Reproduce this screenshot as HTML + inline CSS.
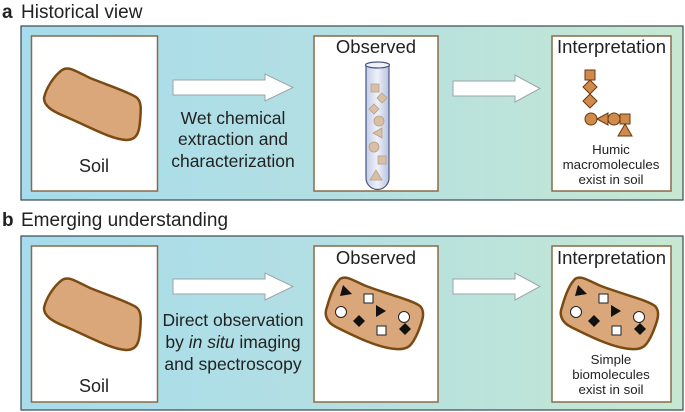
<!DOCTYPE html>
<html><head><meta charset="utf-8"><style>
html,body{margin:0;padding:0;background:#fff;}
svg{display:block;font-family:"Liberation Sans",Arial,sans-serif;}
</style></head><body>
<svg width="685" height="412" viewBox="0 0 685 412" xmlns="http://www.w3.org/2000/svg">
<defs>
<linearGradient id="bg" x1="0" x2="1" y1="0" y2="0">
<stop offset="0" stop-color="#a6dcec"/>
<stop offset="0.45" stop-color="#b3dfe3"/>
<stop offset="1" stop-color="#c6e8d2"/>
</linearGradient>
<linearGradient id="tube" x1="0" x2="1">
<stop offset="0" stop-color="#c4cde8"/>
<stop offset="0.5" stop-color="#eef1fa"/>
<stop offset="1" stop-color="#b7c1e0"/>
</linearGradient>
<path id="blob" d="M62,70 C68,66 74,70 90,78 C110,86 126,91 136,97 C142,101 141,110 140,122 C139,134 136,140 126,140 C110,139 88,126 64,116 C52,111 44,106 44,98 C46,88 54,76 62,70 Z" fill="#d9a77a" stroke="#7a4a12" stroke-width="2.5"/>
<g id="arrow"><path d="M0,6 H92 V0 L120,13.5 L92,27 V21 H0 Z" fill="#fff" stroke="#9aa5a8" stroke-width="1"/></g>
<g id="arrow2"><path d="M0,6 H62 V0 L87,13.5 L62,27 V21 H0 Z" fill="#fff" stroke="#9aa5a8" stroke-width="1"/></g>
</defs>

<!-- Titles -->
<text x="2" y="18" font-size="19" font-weight="bold" fill="#222">a</text>
<text x="21" y="18" font-size="19" fill="#222">Historical view</text>
<text x="2" y="226" font-size="19" font-weight="bold" fill="#222">b</text>
<text x="21" y="226" font-size="19" fill="#222">Emerging understanding</text>

<!-- Panel a -->
<rect x="21" y="26" width="662" height="174" fill="url(#bg)" stroke="#3a4a50" stroke-width="1.2"/>
<rect x="31.5" y="36" width="126" height="155" fill="#fff" stroke="#8a6a4a" stroke-width="1.5"/>
<use href="#blob"/>
<text x="94" y="172" font-size="18" text-anchor="middle" fill="#222">Soil</text>
<use href="#arrow" x="173" y="74"/>
<g font-size="17.5" text-anchor="middle" fill="#222">
<text x="233" y="124">Wet chemical</text>
<text x="233" y="145">extraction and</text>
<text x="233" y="167">characterization</text>
</g>
<rect x="314" y="36" width="124" height="155" fill="#fff" stroke="#8a6a4a" stroke-width="1.5"/>
<text x="376" y="53" font-size="18.5" text-anchor="middle" fill="#222">Observed</text>
<!-- tube -->
<path d="M366,65 V178 A11.5,11.5 0 0 0 389,178 V65" fill="url(#tube)" stroke="#4a5680" stroke-width="1.2"/>
<ellipse cx="377.5" cy="65" rx="12" ry="3" fill="#eef1fa" stroke="#4a5680" stroke-width="1.2"/>
<g fill="#d8bfa6" stroke="#b8a088" stroke-width="0.8">
<rect x="371" y="84" width="8" height="8"/>
<path d="M382,93 l5,5 l-5,5 l-5,-5 z"/>
<path d="M374,104 l5,5 l-5,5 l-5,-5 z"/>
<circle cx="379" cy="121" r="5"/>
<path d="M373,133 l9,-5 v10 z"/>
<circle cx="374" cy="147" r="5"/>
<rect x="378" y="156" width="8" height="8"/>
<path d="M370,180 l6,-10 l6,10 z"/>
</g>
<use href="#arrow2" x="453" y="75"/>
<rect x="552" y="36" width="119" height="155" fill="#fff" stroke="#8a6a4a" stroke-width="1.5"/>
<text x="611.5" y="53" font-size="18.5" text-anchor="middle" fill="#222">Interpretation</text>
<g fill="#cf8a4c" stroke="#6a3a10" stroke-width="1">
<rect x="585" y="70" width="10" height="10"/>
<path d="M590,80 l7,7 l-7,7 l-7,-7 z"/>
<path d="M590,94 l7,7 l-7,7 l-7,-7 z"/>
<circle cx="591" cy="119" r="6"/>
<path d="M597,119 l11,-6 v12 z"/>
<circle cx="614" cy="119" r="6"/>
<rect x="620" y="114" width="10" height="10"/>
<path d="M625,124 l7,12 h-14 z"/>
</g>
<g font-size="13.3" text-anchor="middle" fill="#222">
<text x="611" y="154">Humic</text>
<text x="611" y="169">macromolecules</text>
<text x="611" y="184">exist in soil</text>
</g>

<!-- Panel b -->
<rect x="21" y="236" width="662" height="174" fill="url(#bg)" stroke="#3a4a50" stroke-width="1.2"/>
<rect x="31.5" y="246" width="126" height="156" fill="#fff" stroke="#8a6a4a" stroke-width="1.5"/>
<use href="#blob" transform="translate(0,210)"/>
<text x="94" y="392" font-size="18" text-anchor="middle" fill="#222">Soil</text>
<use href="#arrow" x="173" y="273"/>
<g font-size="17.5" text-anchor="middle" fill="#222">
<text x="233" y="326">Direct observation</text>
<text x="233" y="348">by <tspan font-style="italic">in situ</tspan> imaging</text>
<text x="233" y="370">and spectroscopy</text>
</g>
<rect x="314" y="246" width="124" height="156" fill="#fff" stroke="#8a6a4a" stroke-width="1.5"/>
<text x="376" y="264" font-size="18.5" text-anchor="middle" fill="#222">Observed</text>
<g id="soilb">
<path d="M340,279 C346,275 352,280 366,286 C390,295 412,300 420,306 C426,312 422,322 418,332 C412,346 408,350 396,349 C378,348 354,336 336,327 C326,322 324,314 327,307 C330,296 334,285 340,279 Z" fill="#d9a77a" stroke="#7a4a12" stroke-width="2.5"/>
<path d="M340,296 l3,-11 l9,9 z" fill="#111"/>
<rect x="364" y="294" width="9" height="9" fill="#fff" stroke="#222" stroke-width="1"/>
<circle cx="341" cy="312" r="5.5" fill="#fff" stroke="#222" stroke-width="1"/>
<path d="M376,305 l10,6 l-10,6 z" fill="#111"/>
<circle cx="404" cy="317" r="5.5" fill="#fff" stroke="#222" stroke-width="1"/>
<path d="M359,315 l6,6 l-6,6 l-6,-6 z" fill="#111"/>
<rect x="377" y="326" width="9" height="9" fill="#fff" stroke="#222" stroke-width="1"/>
<path d="M405,323 l6,6 l-6,6 l-6,-6 z" fill="#111"/>
</g>
<use href="#arrow2" x="453" y="273"/>
<rect x="552" y="246" width="119" height="156" fill="#fff" stroke="#8a6a4a" stroke-width="1.5"/>
<text x="611.5" y="264" font-size="18.5" text-anchor="middle" fill="#222">Interpretation</text>
<use href="#soilb" x="235"/>
<g font-size="13.3" text-anchor="middle" fill="#222">
<text x="611" y="364">Simple</text>
<text x="611" y="379">biomolecules</text>
<text x="611" y="394">exist in soil</text>
</g>
</svg>
</body></html>
